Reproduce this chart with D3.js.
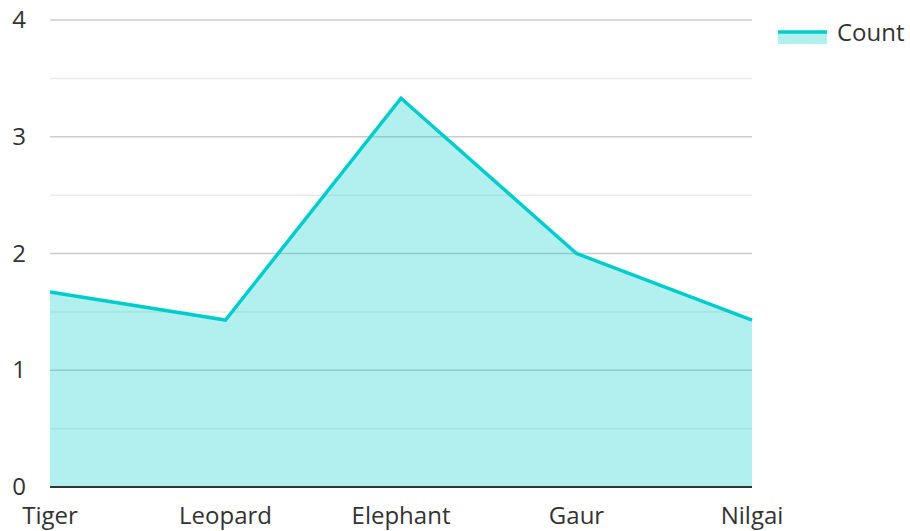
<!DOCTYPE html>
<html>
<head>
<meta charset="utf-8">
<style>
	body { margin: 0; background: #fff; }
	svg { position: absolute; top: 0px; left: 0px; font-family: "Open Sans", "Noto Sans", sans-serif; }
	.grid-major { stroke: #cccccc; stroke-width: 1.5px; }
	.grid-minor { stroke: #ebebeb; stroke-width: 1.5px; }
	.area { fill: #00cccc; fill-opacity: 0.3; }
	.line { fill: none; stroke: #00cccc; stroke-width: 3.5px; stroke-linejoin: miter; }
	.tick-label { fill: #333; font-size: 24px; }
</style>
<script src="https://cdnjs.cloudflare.com/ajax/libs/d3/7.8.5/d3.min.js"></script>
</head>
<body>
<svg width="910" height="531"></svg>
<script>
var categories = ["Tiger", "Leopard", "Elephant", "Gaur", "Nilgai"];
var counts = [1.67, 1.43, 3.33, 2.0, 1.43];
var yTicks = [0, 1, 2, 3, 4];
var yMinorTicks = [0.5, 1.5, 2.5, 3.5];
var seriesName = "Count";

var svg = d3.select("svg"),
	plotLeft = 50, plotRight = 752, plotTop = 20, plotBottom = 487;

var x = d3.scalePoint().domain(categories).range([plotLeft, plotRight]);
var y = d3.scaleLinear().domain([0, 4]).range([plotBottom, plotTop]);

var data = categories.map(function(c, i) { return { name: c, value: counts[i] }; });

// gridlines (area is translucent so they show through)
svg.selectAll(".grid-minor").data(yMinorTicks).enter().append("line")
	.attr("class", "grid-minor")
	.attr("x1", plotLeft).attr("x2", plotRight)
	.attr("y1", function(d) { return y(d); }).attr("y2", function(d) { return y(d); });
svg.selectAll(".grid-major").data(yTicks.filter(function(d) { return d > 0; })).enter().append("line")
	.attr("class", "grid-major")
	.attr("x1", plotLeft).attr("x2", plotRight)
	.attr("y1", function(d) { return y(d); }).attr("y2", function(d) { return y(d); });

var area = d3.area()
	.x(function(d) { return x(d.name); })
	.y0(y(0))
	.y1(function(d) { return y(d.value); });
var line = d3.line()
	.x(function(d) { return x(d.name); })
	.y(function(d) { return y(d.value); });

svg.append("path").datum(data).attr("class", "area").attr("d", area);
svg.append("path").datum(data).attr("class", "line").attr("d", line);

// baseline
svg.append("line")
	.attr("x1", plotLeft).attr("x2", plotRight)
	.attr("y1", y(0)).attr("y2", y(0))
	.attr("stroke", "#333").attr("stroke-width", 2);

// y labels
svg.selectAll(".ylab").data(yTicks).enter().append("text")
	.attr("class", "tick-label")
	.attr("x", 26)
	.attr("y", function(d) { return y(d) + 8; })
	.attr("text-anchor", "end")
	.text(function(d) { return d; });

// x labels
svg.selectAll(".xlab").data(categories).enter().append("text")
	.attr("class", "tick-label")
	.attr("x", function(d) { return x(d); })
	.attr("y", 524)
	.attr("text-anchor", "middle")
	.text(function(d) { return d; });

// legend
var legend = svg.append("g").attr("transform", "translate(778,0)");
legend.append("rect").attr("x", 0).attr("y", 32).attr("width", 49).attr("height", 12)
	.attr("fill", "#00cccc").attr("fill-opacity", 0.3);
legend.append("line").attr("x1", 0).attr("x2", 49).attr("y1", 32).attr("y2", 32)
	.attr("stroke", "#00cccc").attr("stroke-width", 3.5);
legend.append("text").attr("class", "tick-label")
	.attr("x", 59).attr("y", 41).text(seriesName);
</script>
</body>
</html>
